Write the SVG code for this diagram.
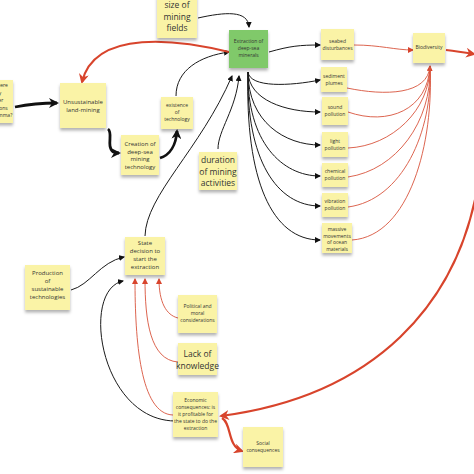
<svg xmlns="http://www.w3.org/2000/svg" width="474" height="474" viewBox="0 0 474 474">
<defs>
<filter id="sh" x="-20%" y="-20%" width="140%" height="150%">
<feDropShadow dx="0" dy="2.5" stdDeviation="1.5" flood-color="#000" flood-opacity="0.3"/>
</filter>
<marker id="ab" markerUnits="userSpaceOnUse" markerWidth="6" markerHeight="6" refX="5" refY="3" orient="auto"><path d="M0,0 L6,3 L0,6 Z" fill="#111"/></marker>
<marker id="abt" markerUnits="userSpaceOnUse" markerWidth="10" markerHeight="10" refX="8" refY="5" orient="auto"><path d="M0,0 L10,5 L0,10 L3,5 Z" fill="#111"/></marker>
<marker id="ar" markerUnits="userSpaceOnUse" markerWidth="6" markerHeight="6" refX="5" refY="3" orient="auto"><path d="M0,0 L6,3 L0,6 Z" fill="#d8442c"/></marker>
<marker id="art" markerUnits="userSpaceOnUse" markerWidth="10" markerHeight="10" refX="8" refY="5" orient="auto"><path d="M0,0 L10,5 L0,10 L3,5 Z" fill="#d8442c"/></marker>
</defs>
<style>
.n{fill:#faf3a6;filter:url(#sh)}
.g{fill:#80c96a;filter:url(#sh)}
text{font-family:"Open Sans","Liberation Sans",sans-serif;fill:#333;text-anchor:middle}
.s{font-size:5px}
.m{font-size:6px}
.l{font-size:8.5px}
.k{fill:none;stroke:#1a1a1a;stroke-width:1}
.kt{fill:none;stroke:#111;stroke-width:2.8}
.r{fill:none;stroke:#d8543c;stroke-width:0.9}
.rt{fill:none;stroke:#d8442c;stroke-width:2.2}
</style>
<rect width="474" height="474" fill="#fff"/>
<g id="connectors">
<path class="kt" d="M15,107 C30,104 42,103 57,103" marker-end="url(#abt)"/>
<path class="kt" d="M108,129 C112,132 109,140 110,146 C111,152 114,153 119,153" marker-end="url(#abt)"/>
<path class="kt" d="M160,158 C170,155 176,145 177,131" marker-end="url(#abt)"/>
<path class="k" d="M198,18 C225,12 248,10 249,27" marker-end="url(#ab)"/>
<path class="k" d="M176,96 C176,70 200,56 229,52" marker-end="url(#ab)"/>
<path class="k" d="M145,236 C146,195 200,150 232,76" marker-end="url(#ab)"/>
<path class="k" d="M218,149 C218,130 236,110 239,76" marker-end="url(#ab)"/>
<path class="k" d="M269,52 C290,46 300,45 320,45" marker-end="url(#ab)"/>
<path class="k" d="M248,72 C250,88 290,86 320,80" marker-end="url(#ab)"/>
<path class="k" d="M248,72 C249,100 285,112 320,112" marker-end="url(#ab)"/>
<path class="k" d="M248,72 C248,122 285,145 320,145" marker-end="url(#ab)"/>
<path class="k" d="M248,72 C247,142 282,176 320,176" marker-end="url(#ab)"/>
<path class="k" d="M248,72 C246,160 277,206 320,206" marker-end="url(#ab)"/>
<path class="k" d="M248,72 C245,180 272,240 320,240" marker-end="url(#ab)"/>
<path class="k" d="M71,290 C90,285 100,262 124,257" marker-end="url(#ab)"/>
<path class="k" d="M175,421 C100,420 80,290 123,281" marker-end="url(#ab)"/>
<path class="rt" d="M229,52 C180,40 95,28 82,82" marker-end="url(#art)"/>
<path class="r" d="M354,45 C380,45 395,50 413,50" marker-end="url(#ar)"/>
<path class="r" d="M347,88 C385,96 428,95 430,66" marker-end="url(#ar)"/>
<path class="r" d="M348,112 C388,126 428,110 430,66"/>
<path class="r" d="M348,148 C392,146 430,110 430,66"/>
<path class="r" d="M348,177 C396,170 432,122 430,66"/>
<path class="r" d="M348,207 C402,200 433,132 430,66"/>
<path class="r" d="M352,240 C410,236 434,142 430,66"/>
<path class="rt" d="M446,50 C455,51 462,52 474,54" marker-end="url(#art)"/>
<path class="rt" d="M476,195 C455,300 380,395 221,416" marker-end="url(#art)"/>
<path class="rt" d="M222,418 C232,424 227,446 242,451" marker-end="url(#art)"/>
<path class="r" d="M178,318 C166,315 159,302 159,279" marker-end="url(#ar)"/>
<path class="r" d="M178,362 C150,360 145,320 145,279" marker-end="url(#ar)"/>
<path class="r" d="M173,415 C140,414 135,340 135,279" marker-end="url(#ar)"/>
</g>
<g id="n-left"><rect class="n" x="-50" y="80" width="63" height="43"/>
<text class="s" x="-3" y="87">Are there</text><text class="s" x="-3" y="94.5">any</text><text class="s" x="-3" y="102">other</text><text class="s" x="-3" y="109.5">solutions</text><text class="s" x="-3" y="117">for dilemma?</text></g>
<g id="n-unsustainable"><rect class="n" x="60" y="83" width="46" height="45"/>
<text class="m" x="83" y="104">Unsustainable</text><text class="m" x="83" y="112">land-mining</text></g>
<g id="n-creation"><rect class="n" x="121" y="135" width="38" height="40"/>
<text class="m" x="140" y="146">Creation of</text><text class="m" x="140" y="153.5">deep-sea</text><text class="m" x="140" y="161">mining</text><text class="m" x="140" y="168.5">technology</text></g>
<g id="n-existence"><rect class="n" x="161" y="97" width="32" height="32"/>
<text class="s" x="177" y="107">existence</text><text class="s" x="177" y="114">of</text><text class="s" x="177" y="121">technology</text></g>
<g id="n-size"><rect class="n" x="157" y="-4" width="40" height="42"/>
<text class="l" x="177" y="8">size of</text><text class="l" x="177" y="19.5">mining</text><text class="l" x="177" y="31">fields</text></g>
<g id="n-extraction"><rect class="g" x="229" y="30" width="39" height="38"/>
<text class="s" x="248.5" y="43">Extraction of</text><text class="s" x="248.5" y="50">deep-sea</text><text class="s" x="248.5" y="57">minerals</text></g>
<g id="n-duration"><rect class="n" x="199" y="152" width="38" height="38"/>
<text class="l" x="218" y="163">duration</text><text class="l" x="218" y="174.5">of mining</text><text class="l" x="218" y="186">activities</text></g>
<g id="n-seabed"><rect class="n" x="321" y="29" width="33" height="31"/>
<text class="s" x="337.5" y="43">seabed</text><text class="s" x="337.5" y="50">disturbances</text></g>
<g id="n-sediment"><rect class="n" x="321" y="67" width="26" height="25"/>
<text class="s" x="334" y="78">sediment</text><text class="s" x="334" y="85">plumes</text></g>
<g id="n-sound"><rect class="n" x="322" y="97" width="26" height="28"/>
<text class="s" x="335" y="109">sound</text><text class="s" x="335" y="116">pollution</text></g>
<g id="n-light"><rect class="n" x="322" y="132" width="26" height="25"/>
<text class="s" x="335" y="143">light</text><text class="s" x="335" y="150">pollution</text></g>
<g id="n-chemical"><rect class="n" x="322" y="163" width="26" height="24"/>
<text class="s" x="335" y="173">chemical</text><text class="s" x="335" y="180">pollution</text></g>
<g id="n-vibration"><rect class="n" x="322" y="193" width="26" height="24"/>
<text class="s" x="335" y="203">vibration</text><text class="s" x="335" y="210">pollution</text></g>
<g id="n-massive"><rect class="n" x="322" y="223" width="30" height="30"/>
<text class="s" x="337" y="231">massive</text><text class="s" x="337" y="237.5">movements</text><text class="s" x="337" y="244">of ocean</text><text class="s" x="337" y="250.5">materials</text></g>
<g id="n-biodiversity"><rect class="n" x="413" y="33" width="32" height="30"/>
<text class="s" x="429" y="49">Biodiversity</text></g>
<g id="n-state"><rect class="n" x="125" y="237" width="40" height="38"/>
<text class="m" x="145" y="245">State</text><text class="m" x="145" y="253">decision to</text><text class="m" x="145" y="261">start the</text><text class="m" x="145" y="269">extraction</text></g>
<g id="n-production"><rect class="n" x="25" y="265" width="45" height="45"/>
<text class="m" x="47.5" y="275">Production</text><text class="m" x="47.5" y="283">of</text><text class="m" x="47.5" y="291">sustainable</text><text class="m" x="47.5" y="299">technologies</text></g>
<g id="n-political"><rect class="n" x="178" y="295" width="39" height="38"/>
<text class="s" x="197.5" y="308">Political and</text><text class="s" x="197.5" y="315">moral</text><text class="s" x="197.5" y="322">considerations</text></g>
<g id="n-lack"><rect class="n" x="178" y="343" width="39" height="32"/>
<text class="l" x="197.5" y="357">Lack of</text><text class="l" x="197.5" y="368.5">knowledge</text></g>
<g id="n-economic"><rect class="n" x="173" y="392" width="45" height="45"/>
<text class="s" x="195.5" y="402">Economic</text><text class="s" x="195.5" y="409">consequences: is</text><text class="s" x="195.5" y="416">it profitable for</text><text class="s" x="195.5" y="423">the state to do the</text><text class="s" x="195.5" y="430">extraction</text></g>
<g id="n-social"><rect class="n" x="243" y="427" width="40" height="40"/>
<text class="s" x="263" y="445">Social</text><text class="s" x="263" y="452">consequences</text></g>
</svg>
